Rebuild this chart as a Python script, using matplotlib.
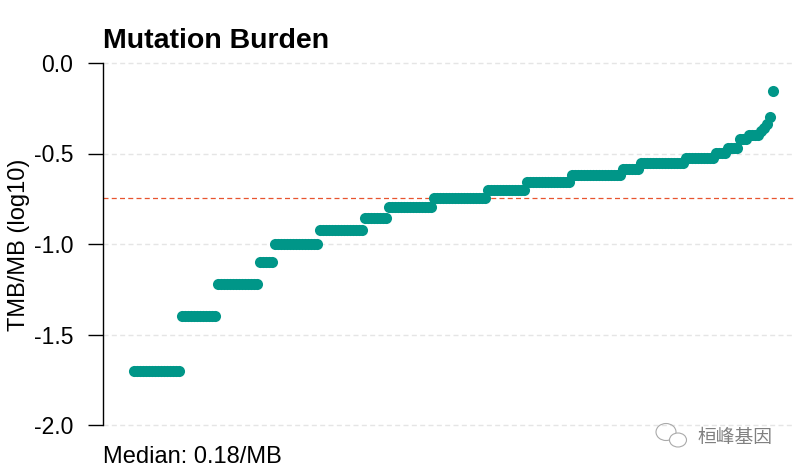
import numpy as np
import matplotlib
matplotlib.use("Agg")
import matplotlib.pyplot as plt
from matplotlib.patches import Ellipse

plt.rcParams['font.family'] = ['Liberation Sans', 'DejaVu Sans']

# TMB levels (log10 of mutations per MB) and how many samples sit on each level
tmb_levels = [-1.70, -1.40, -1.22, -1.10, -1.00, -0.92, -0.854, -0.796, -0.745,
              -0.699, -0.658, -0.62, -0.585, -0.553, -0.523, -0.495, -0.469,
              -0.42, -0.398, -0.377, -0.357, -0.338, -0.301, -0.155]
n_samples = [16, 12, 14, 5, 15, 15, 8, 15, 18,
             13, 15, 17, 6, 15, 10, 4, 4,
             3, 4, 1, 1, 1, 1, 1]
y_ticks = [0.0, -0.5, -1.0, -1.5, -2.0]

tmb_log = np.repeat(tmb_levels, n_samples)
tmb_log = np.sort(tmb_log)
idx = np.arange(1, len(tmb_log) + 1)
median_tmb = np.median(10 ** tmb_log)

fig = plt.figure(figsize=(7.95, 4.71), dpi=100)
W, H = 795.0, 471.0
# axes in pixel terms: x 103..795, y 56..432
ax = fig.add_axes([103 / W, 1 - 432 / H, (795 - 103) / W, (432 - 56) / H])

px = 639.0 / (len(idx) - 1)   # pixels per sample
ax.set_xlim(1 - (134.4 - 103) / px, len(idx) + (795 - 773.4) / px)
pad = 7 / 181.0
ax.set_ylim(-2 - pad, 0 + pad)

# grid lines
for yt in y_ticks:
    ax.axhline(yt, color='#e5e5e5', lw=1, dashes=(3.6, 2.4), zorder=0)

ax.plot(idx, tmb_log, 'o', color='#009688', markersize=8, markeredgewidth=0, zorder=3)

# median line
ax.axhline(np.log10(median_tmb), color='#e8542f', lw=0.9, dashes=(4, 2.6), zorder=2)

for s in ['top', 'right', 'bottom']:
    ax.spines[s].set_visible(False)
ax.spines['left'].set_bounds(-2, 0)
ax.spines['left'].set_linewidth(1)
ax.set_xticks([])
ax.set_yticks(y_ticks)
ax.set_yticklabels(['%.1f' % v for v in y_ticks], fontsize=16.5)
ax.tick_params(axis='y', length=11, width=1, pad=10.5)

fig.text(19 / W, 1 - 245 / H, 'TMB/MB (log10)', rotation=90, fontsize=17,
         ha='center', va='center')
fig.text(103 / W, 1 - 48.3 / H, 'Mutation Burden', fontsize=20.5,
         fontweight='bold', ha='left', va='baseline')
fig.text(103 / W, 1 - 462.7 / H, 'Median: %.2f/MB' % median_tmb, fontsize=17,
         ha='left', va='baseline')

# watermark
e1 = Ellipse((666 / W, 1 - 432 / H), 20 / W, 17 / H, transform=fig.transFigure,
             fill=False, edgecolor='#aaaaaa', lw=0.8)
e2 = Ellipse((678 / W, 1 - 440 / H), 17 / W, 14 / H, transform=fig.transFigure,
             facecolor='white', edgecolor='#aaaaaa', lw=0.8)
fig.add_artist(e1)
fig.add_artist(e2)
fig.text(697 / W, 1 - 437 / H, '桓峰基因', fontsize=13.5, color='#808080',
         family=['Noto Sans CJK SC', 'DejaVu Sans'], ha='left', va='center')

fig.savefig('out.png', dpi=100)
